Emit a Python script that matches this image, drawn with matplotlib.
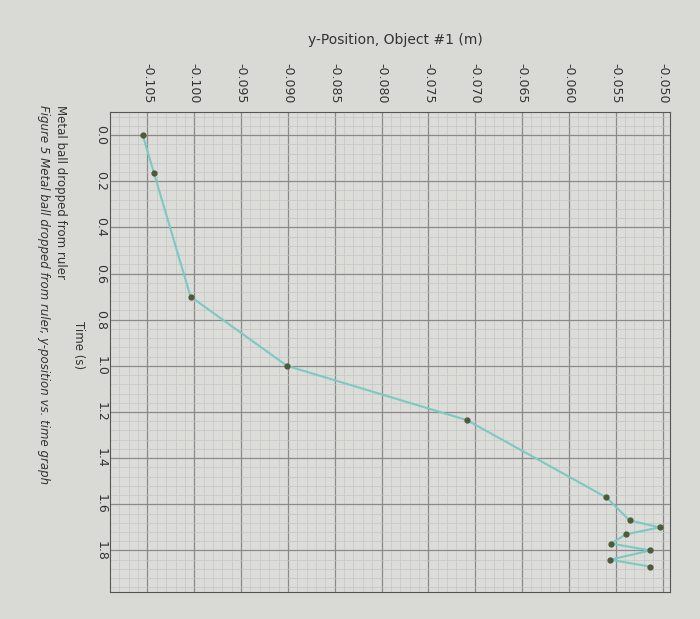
import numpy as np
import matplotlib.pyplot as plt
from matplotlib.ticker import MultipleLocator

# time (s) and y-position (m)
time_s = [0.0, 0.165, 0.70, 1.00, 1.235, 1.57, 1.67, 1.70, 1.73, 1.77, 1.80, 1.84, 1.87]
y_pos = [-0.1055, -0.1043, -0.1004, -0.0901, -0.0709, -0.0560, -0.0535, -0.0503,
         -0.0539, -0.0555, -0.0513, -0.0556, -0.0513]
pos_ticks = np.round(np.arange(-0.105, -0.0499, 0.005), 3)
time_ticks = np.round(np.arange(0.0, 1.81, 0.2), 1)

fig = plt.figure(figsize=(7.0, 6.19), dpi=100)
fig.patch.set_facecolor('#d9d9d6')
ax = fig.add_axes([110/700, 27/619, 560/700, 480/619])
ax.set_facecolor('#dcdcd9')

ax.plot(y_pos, time_s, color='#7cc9c4', lw=1.5, marker='o', ms=3.5,
        mfc='#4f5a3a', mec='#4f5a3a', zorder=3)

ax.set_xlim(-0.109, -0.0492)
ax.set_ylim(1.98, -0.1)
ax.xaxis.tick_top()
ax.set_xticks(pos_ticks)
ax.set_xticklabels([f'{v:.3f}' for v in pos_ticks], rotation=-90, fontsize=9)
ax.set_yticks(time_ticks)
ax.set_yticklabels([f'{v:.1f}' for v in time_ticks], rotation=-90, fontsize=9, va='center')
ax.xaxis.set_minor_locator(MultipleLocator(0.001))
ax.yaxis.set_minor_locator(MultipleLocator(0.04))
ax.grid(which='major', color='#8a8a8a', lw=0.9)
ax.grid(which='minor', color='#c4c4c4', lw=0.5)
ax.tick_params(axis='x', which='both', length=0, colors='#333333', pad=6)
ax.tick_params(axis='y', which='both', length=0, colors='#333333', pad=2)
for s in ax.spines.values():
    s.set_color('#555555')

fig.text(395/700, 1 - 40/619, 'y-Position, Object #1 (m)', ha='center', va='center',
         fontsize=10, color='#333333')
fig.text(78/700, 1 - 345/619, 'Time (s)', rotation=-90, ha='center', va='center',
         fontsize=8.5, color='#333333')
fig.text(60/700, 1 - 105/619, 'Metal ball dropped from ruler', rotation=-90,
         ha='center', va='top', fontsize=8.5, color='#333333')
fig.text(43/700, 1 - 105/619, 'Figure 5 Metal ball dropped from ruler, y-position vs. time graph',
         rotation=-90, ha='center', va='top', fontsize=8.5, style='italic', color='#333333')

fig.savefig('out.png', dpi=100, facecolor=fig.get_facecolor())
